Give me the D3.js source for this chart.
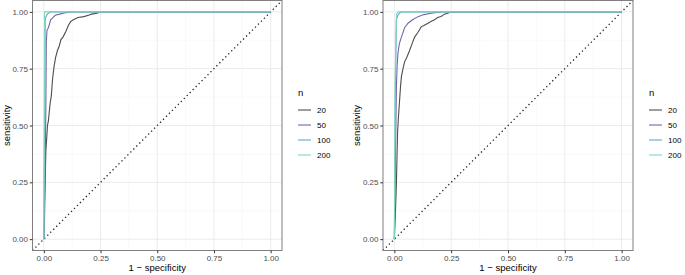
<!DOCTYPE html>
<html>
<head>
<meta charset="utf-8">
<script src="https://cdn.jsdelivr.net/npm/d3@7"></script>
<style>
body { margin: 0; background: #fff; }
text { font-family: "Liberation Sans", Arial, sans-serif; }
</style>
</head>
<body>
<div id="chart"></div>
<script>
// legend groups
var groups = ['20', '50', '100', '200'];
var colors = ['#4d4d4d', '#7467a8', '#62aacb', '#7fd8c0'];
var ticks = [0, 0.25, 0.5, 0.75, 1];
var tickLabels = ['0.00', '0.25', '0.50', '0.75', '1.00'];

// left panel ROC points  [fpr, tpr]
var left20 = [[0,0],[0.003,0.08],[0.004,0.17],[0.007,0.3],[0.009,0.39],[0.013,0.45],[0.016,0.5],[0.02,0.52],[0.023,0.55],[0.028,0.6],[0.033,0.63],[0.038,0.7],[0.045,0.76],[0.052,0.8],[0.06,0.83],[0.068,0.85],[0.075,0.877],[0.085,0.89],[0.097,0.914],[0.108,0.94],[0.118,0.957],[0.13,0.965],[0.15,0.975],[0.177,0.979],[0.2,0.986],[0.21,0.99],[0.235,0.994],[0.25,1],[1,1]];
var left50 = [[0,0],[0.006,0.3],[0.009,0.6],[0.011,0.87],[0.014,0.92],[0.02,0.93],[0.023,0.94],[0.03,0.965],[0.04,0.975],[0.05,0.985],[0.07,0.99],[0.09,0.995],[0.12,1],[1,1]];
var left100 = [[0,0],[0.003,0.5],[0.006,0.97],[0.01,0.98],[0.015,0.99],[0.03,1],[1,1]];
var left200 = [[0,0],[0.002,0.6],[0.003,1],[1,1]];

// right panel ROC points
var right20 = [[0,0],[0.004,0.1],[0.009,0.245],[0.012,0.38],[0.014,0.466],[0.018,0.54],[0.023,0.61],[0.027,0.67],[0.031,0.715],[0.038,0.75],[0.045,0.78],[0.055,0.8],[0.067,0.83],[0.078,0.86],[0.089,0.889],[0.104,0.91],[0.118,0.934],[0.13,0.94],[0.148,0.95],[0.165,0.96],[0.177,0.965],[0.19,0.975],[0.206,0.98],[0.22,0.99],[0.235,0.994],[0.25,1],[1,1]];
var right50 = [[0,0],[0.004,0.3],[0.009,0.67],[0.012,0.76],[0.016,0.82],[0.022,0.86],[0.031,0.889],[0.045,0.93],[0.06,0.95],[0.08,0.965],[0.104,0.979],[0.13,0.988],[0.162,0.994],[0.206,1],[1,1]];
var right100 = [[0,0],[0.004,0.6],[0.009,0.965],[0.015,0.985],[0.023,0.994],[0.03,1],[1,1]];
var right200 = [[0,0],[0.003,0.7],[0.009,0.99],[0.016,1],[1,1]];

var W = 685, H = 275;
var svg = d3.select('#chart').append('svg').attr('width', W).attr('height', H);

function drawPanel(x0, x1, series, yTitleX) {
    var y0 = 0.5, y1 = 250.5;
    var sx = d3.scaleLinear().domain([-0.05, 1.05]).range([x0, x1]);
    var sy = d3.scaleLinear().domain([-0.05, 1.05]).range([y1, y0]);
    var g = svg.append('g');

    var minor = [0.125, 0.375, 0.625, 0.875];
    g.selectAll('.vminor').data(minor).enter().append('line')
        .attr('x1', d => sx(d)).attr('x2', d => sx(d)).attr('y1', y0).attr('y2', y1)
        .attr('stroke', '#f2f2f2').attr('stroke-width', 0.5);
    g.selectAll('.hminor').data(minor).enter().append('line')
        .attr('y1', d => sy(d)).attr('y2', d => sy(d)).attr('x1', x0).attr('x2', x1)
        .attr('stroke', '#f2f2f2').attr('stroke-width', 0.5);
    g.selectAll('.vmajor').data(ticks).enter().append('line')
        .attr('x1', d => sx(d)).attr('x2', d => sx(d)).attr('y1', y0).attr('y2', y1)
        .attr('stroke', '#ebebeb').attr('stroke-width', 1);
    g.selectAll('.hmajor').data(ticks).enter().append('line')
        .attr('y1', d => sy(d)).attr('y2', d => sy(d)).attr('x1', x0).attr('x2', x1)
        .attr('stroke', '#ebebeb').attr('stroke-width', 1);

    // diagonal reference
    g.append('line')
        .attr('x1', sx(-0.05)).attr('y1', sy(-0.05)).attr('x2', sx(1.05)).attr('y2', sy(1.05))
        .attr('stroke', '#222').attr('stroke-width', 1.3).attr('stroke-dasharray', '1.3,2.9');

    var line = d3.line().x(d => sx(d[0])).y(d => sy(d[1]));
    series.forEach(function (s, i) {
        g.append('path').datum(s).attr('d', line)
            .attr('fill', 'none').attr('stroke', colors[i]).attr('stroke-width', 1.1);
    });

    g.append('rect').attr('x', x0).attr('y', y0).attr('width', x1 - x0).attr('height', y1 - y0)
        .attr('fill', 'none').attr('stroke', '#7f7f7f').attr('stroke-width', 1);

    // axes
    var axX = d3.axisBottom(sx).tickValues(ticks).tickFormat((d, i) => tickLabels[i]).tickSize(2.75).tickSizeOuter(0);
    var gx = g.append('g').attr('transform', `translate(0,${y1})`).call(axX);
    var axY = d3.axisLeft(sy).tickValues(ticks).tickFormat((d, i) => tickLabels[i]).tickSize(2.75).tickSizeOuter(0);
    var gy = g.append('g').attr('transform', `translate(${x0},0)`).call(axY);
    [gx, gy].forEach(function (a) {
        a.select('.domain').remove();
        a.selectAll('.tick line').attr('stroke', '#333');
        a.selectAll('.tick text').attr('fill', '#4d4d4d')
            .style('font-size', '8px').style('font-family', '"Liberation Sans", Arial, sans-serif');
    });
    gx.selectAll('.tick text').attr('y', 5).attr('dy', '0.71em');
    gy.selectAll('.tick text').attr('x', -4.5).attr('dy', '0.32em');

    g.append('text').attr('x', (sx(-0.05) + sx(1.05)) / 2).attr('y', 271)
        .attr('text-anchor', 'middle').style('font-size', '9.5px').attr('fill', '#000')
        .text('1 − specificity');
    g.append('text').attr('transform', `translate(${yTitleX},${(y0 + y1) / 2}) rotate(-90)`)
        .attr('text-anchor', 'middle').style('font-size', '9.5px').attr('fill', '#000')
        .text('sensitivity');

    // legend
    var lx = x1 + 16;
    g.append('text').attr('x', lx).attr('y', 96).style('font-size', '9.5px').attr('fill', '#000').text('n');
    groups.forEach(function (n, i) {
        var yy = 110 + i * 15;
        g.append('line').attr('x1', lx).attr('x2', lx + 13).attr('y1', yy).attr('y2', yy)
            .attr('stroke', colors[i]).attr('stroke-width', 1.1);
        g.append('text').attr('x', lx + 19).attr('y', yy).attr('dy', '0.32em')
            .style('font-size', '8px').attr('fill', '#000').text(n);
    });
}

drawPanel(32.5, 282, [left20, left50, left100, left200], 10);
drawPanel(383, 633, [right20, right50, right100, right200], 360);
</script>
</body>
</html>
